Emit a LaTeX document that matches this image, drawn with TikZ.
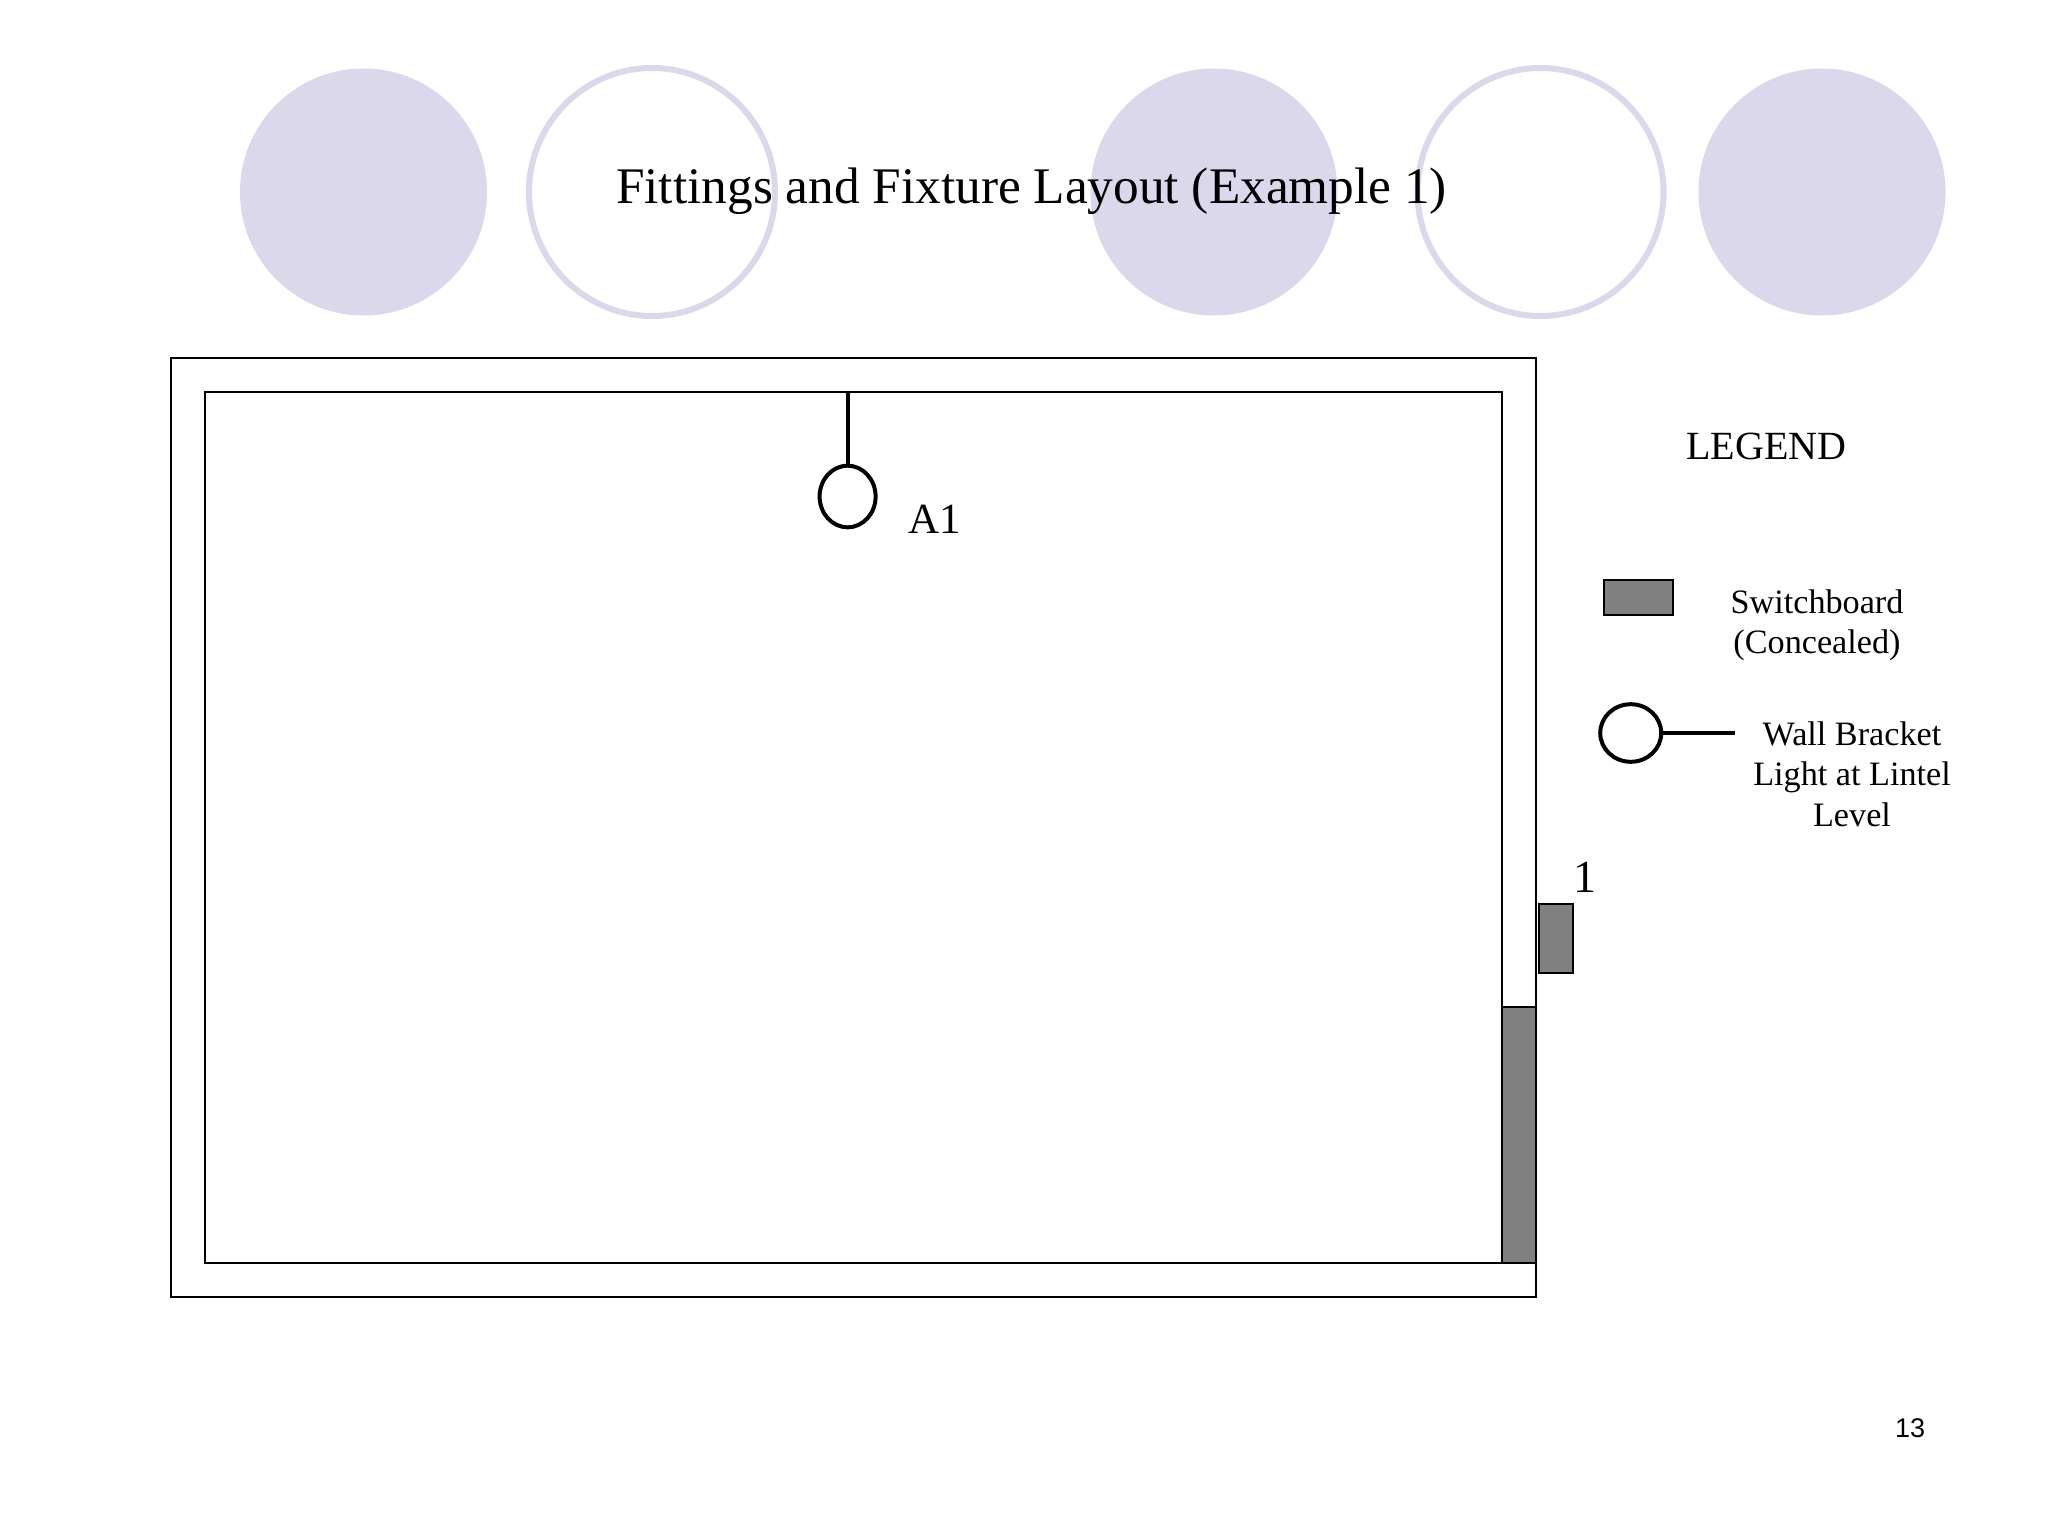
\documentclass[tikz,border=0pt]{standalone}
\usepackage{fontspec}
\setmainfont{Liberation Serif}
\newfontfamily\slidesans{Liberation Sans}
\usetikzlibrary{shapes.geometric}
\definecolor{deco}{HTML}{DAD8EA}
\definecolor{board}{HTML}{808080}
\tikzset{
  discdeco/.style={fill=deco,draw=none},
  ringdeco/.style={draw=deco,line width=3pt,fill=none},
  wall/.style={draw=black,line width=1pt,fill=none},
  boardbox/.style={draw=black,line width=1pt,fill=board},
  lamp/.style={ellipse,draw=black,line width=2pt,inner sep=0pt},
  arm/.style={draw=black,line width=1.9pt},
  lbl/.style={inner sep=0pt,outer sep=0pt,text=black},
  fsA/.style={font=\fontsize{25.65}{32}\selectfont},
  fsB/.style={font=\fontsize{20}{24}\selectfont},
  fsC/.style={font=\fontsize{17.1}{20.25}\selectfont},
  fsD/.style={font=\fontsize{21.5}{26}\selectfont},
  fsE/.style={font=\fontsize{23}{28}\selectfont},
}
\begin{document}
\begin{tikzpicture}[x=0.5pt,y=-0.5pt]
\useasboundingbox (0,0) rectangle (2048,1536);
\fill[white] (0,0) rectangle (2048,1536);
% decorative circles
\path[discdeco] (363.5,192) ellipse [x radius=123.5,y radius=123.5];
\path[ringdeco] (652,192) ellipse [x radius=123,y radius=124];
\path[discdeco] (1214,192) ellipse [x radius=123.5,y radius=123.5];
\path[ringdeco] (1540.5,192) ellipse [x radius=123,y radius=124];
\path[discdeco] (1822,192) ellipse [x radius=123.5,y radius=123.5];
% title
\node[lbl,fsA,anchor=base] (title) at (1031.5,203) {Fittings and Fixture Layout (Example 1)};
% room
\draw[wall] (170.5,358.3) rectangle (1536,1297);
\draw[wall] (205,392.3) rectangle (1501.7,1262.7);
\draw[boardbox] (1501.7,1006.7) rectangle (1536,1262.7);
\draw[boardbox] (1538.5,904.4) rectangle (1573,973);
% fixture A1
\coordinate (wallA) at (847.6,392.3);
\node[lamp,minimum width=28pt,minimum height=30.8pt] (lampA) at (847.6,496.5) {};
\draw[arm] (wallA) -- (lampA.north);
\node[lbl,fsD,anchor=base west] (labA) at (908,533) {A1};
\node[lbl,fsE,anchor=base west] (labOne) at (1573.5,892.5) {1};
% legend
\node[lbl,fsB,anchor=base] (legend) at (1766.5,459) {LEGEND};
\draw[boardbox] (1604,579.5) rectangle (1673.4,614.7);
\node[lbl,fsC,anchor=base,align=center] (legSw) at (1817,653.7) {Switchboard\\(Concealed)};
\node[lamp,minimum width=30.5pt,minimum height=28.8pt] (lampL) at (1630.7,733) {};
\coordinate (armEnd) at (1734.5,733);
\draw[arm] (lampL.east) -- (armEnd);
\node[lbl,fsC,anchor=base,align=center] (legWb) at (1852,826) {Wall Bracket\\Light at Lintel\\Level};
% page number
\node[lbl,anchor=base,font=\slidesans\fontsize{13.5}{16}\selectfont] (page) at (1910,1437) {13};
\end{tikzpicture}
\end{document}
